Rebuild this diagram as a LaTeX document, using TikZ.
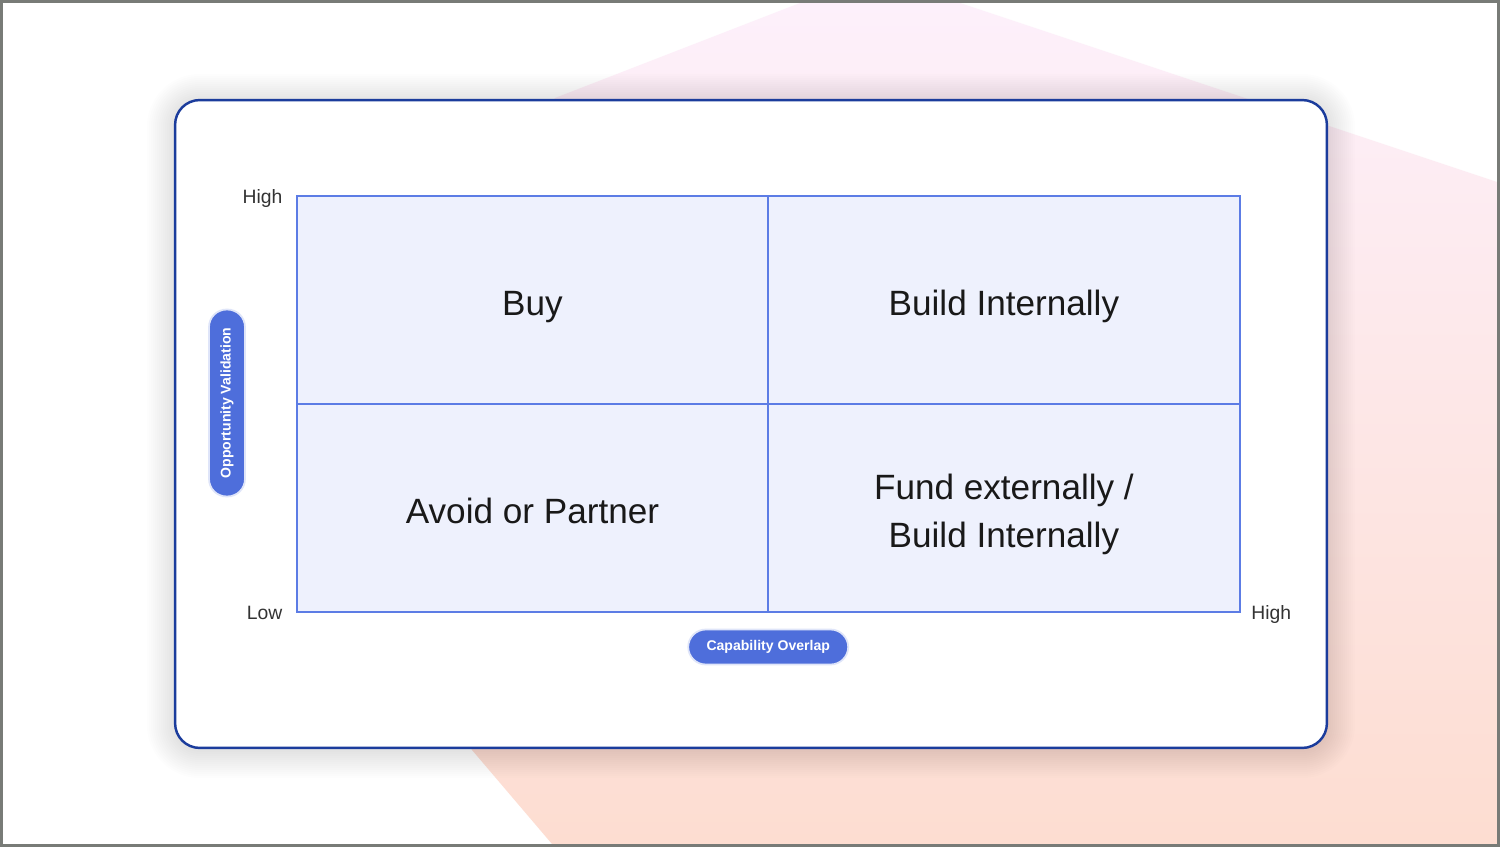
\documentclass[tikz,border=0pt]{standalone}
\usepackage{fontspec}
\setmainfont{Liberation Sans}
\usetikzlibrary{positioning}
\definecolor{frameGray}{HTML}{787B77}
\definecolor{cardBlue}{HTML}{1B3C9C}
\definecolor{cellFill}{HTML}{EEF1FD}
\definecolor{cellLine}{HTML}{5C7CE5}
\definecolor{pillBlue}{HTML}{4E6EDB}
\definecolor{bgPink}{HTML}{FDF0FB}
\definecolor{bgMid}{HTML}{FDEAEE}
\definecolor{bgPeach}{HTML}{FDDDD1}
\tikzset{
  cell/.style={draw=cellLine, fill=cellFill, line width=1.1pt, minimum width=9.43cm,
    minimum height=4.16cm, inner sep=0pt, outer sep=0pt, align=center,
    font=\fontsize{20}{27}\selectfont, text=black!90},
  oneline/.style={text height=17.8pt, text depth=0pt},
  axislbl/.style={font=\fontsize{11}{13}\selectfont, text=black!80, inner sep=0pt},
  pill/.style={fill=pillBlue, draw=pillBlue!18, line width=1pt, text=white,
    font=\bfseries\fontsize{8}{10}\selectfont, rounded corners=10pt, inner sep=0pt},
}
\begin{document}
\begin{tikzpicture}[x=0.02cm, y=-0.02cm]
  \useasboundingbox (0,0) rectangle (1500,847);
  % backdrop
  \fill[white] (0,0) rectangle (1500,847);
  \shade[top color=bgPink, middle color=bgMid, bottom color=bgPeach]
    (800,3) -- (960,3) -- (1497,182) -- (1497,844) -- (552,844) -- (472,750)
    -- (300,450) -- (555,98) -- cycle;
  % card with soft shadow
  \foreach \s [evaluate=\s as \r using 14+0.57*\s] in {2,4,...,28}
    \fill[black, opacity=0.008, rounded corners=\r pt]
      (175-\s,102-\s) rectangle (1327+\s,750+\s);
  \node[draw=cardBlue, fill=white, line width=1.4pt, rounded corners=14pt,
    minimum width=23.04cm, minimum height=12.96cm, inner sep=0pt] (card) at (751,424) {};
  % quadrants
  \node[cell, oneline] (buy) at (532.5,300) {Buy};
  \node[cell, oneline, right=0pt of buy] (build) {Build Internally};
  \node[cell, oneline, below=0pt of buy] (avoid) {Avoid or Partner};
  \node[cell, text height=44.7pt, text depth=0pt, right=0pt of avoid] (fund)
    {Fund externally /\\Build Internally};
  % axis ends
  \node[axislbl, anchor=east] (yhigh) at ([xshift=-8pt,yshift=-1.2pt]buy.north west) {High};
  \node[axislbl, anchor=east] (ylow) at ([xshift=-8pt,yshift=-0.6pt]avoid.south west) {Low};
  \node[axislbl, anchor=west] (xhigh) at ([xshift=6.5pt,yshift=-1.7pt]fund.south east) {High};
  % axis titles
  \node[pill, minimum width=3.2cm, minimum height=0.7cm, below=9.5pt of avoid.south east]
    (xaxis) {Capability Overlap};
  \node[pill, rotate=90, minimum width=3.74cm, minimum height=0.72cm]
    (yaxis) at (227,403) {Opportunity Validation};
  % frame
  \draw[frameGray, line width=1.7pt] (1.5,1.5) rectangle (1498.5,845.5);
\end{tikzpicture}
\end{document}
